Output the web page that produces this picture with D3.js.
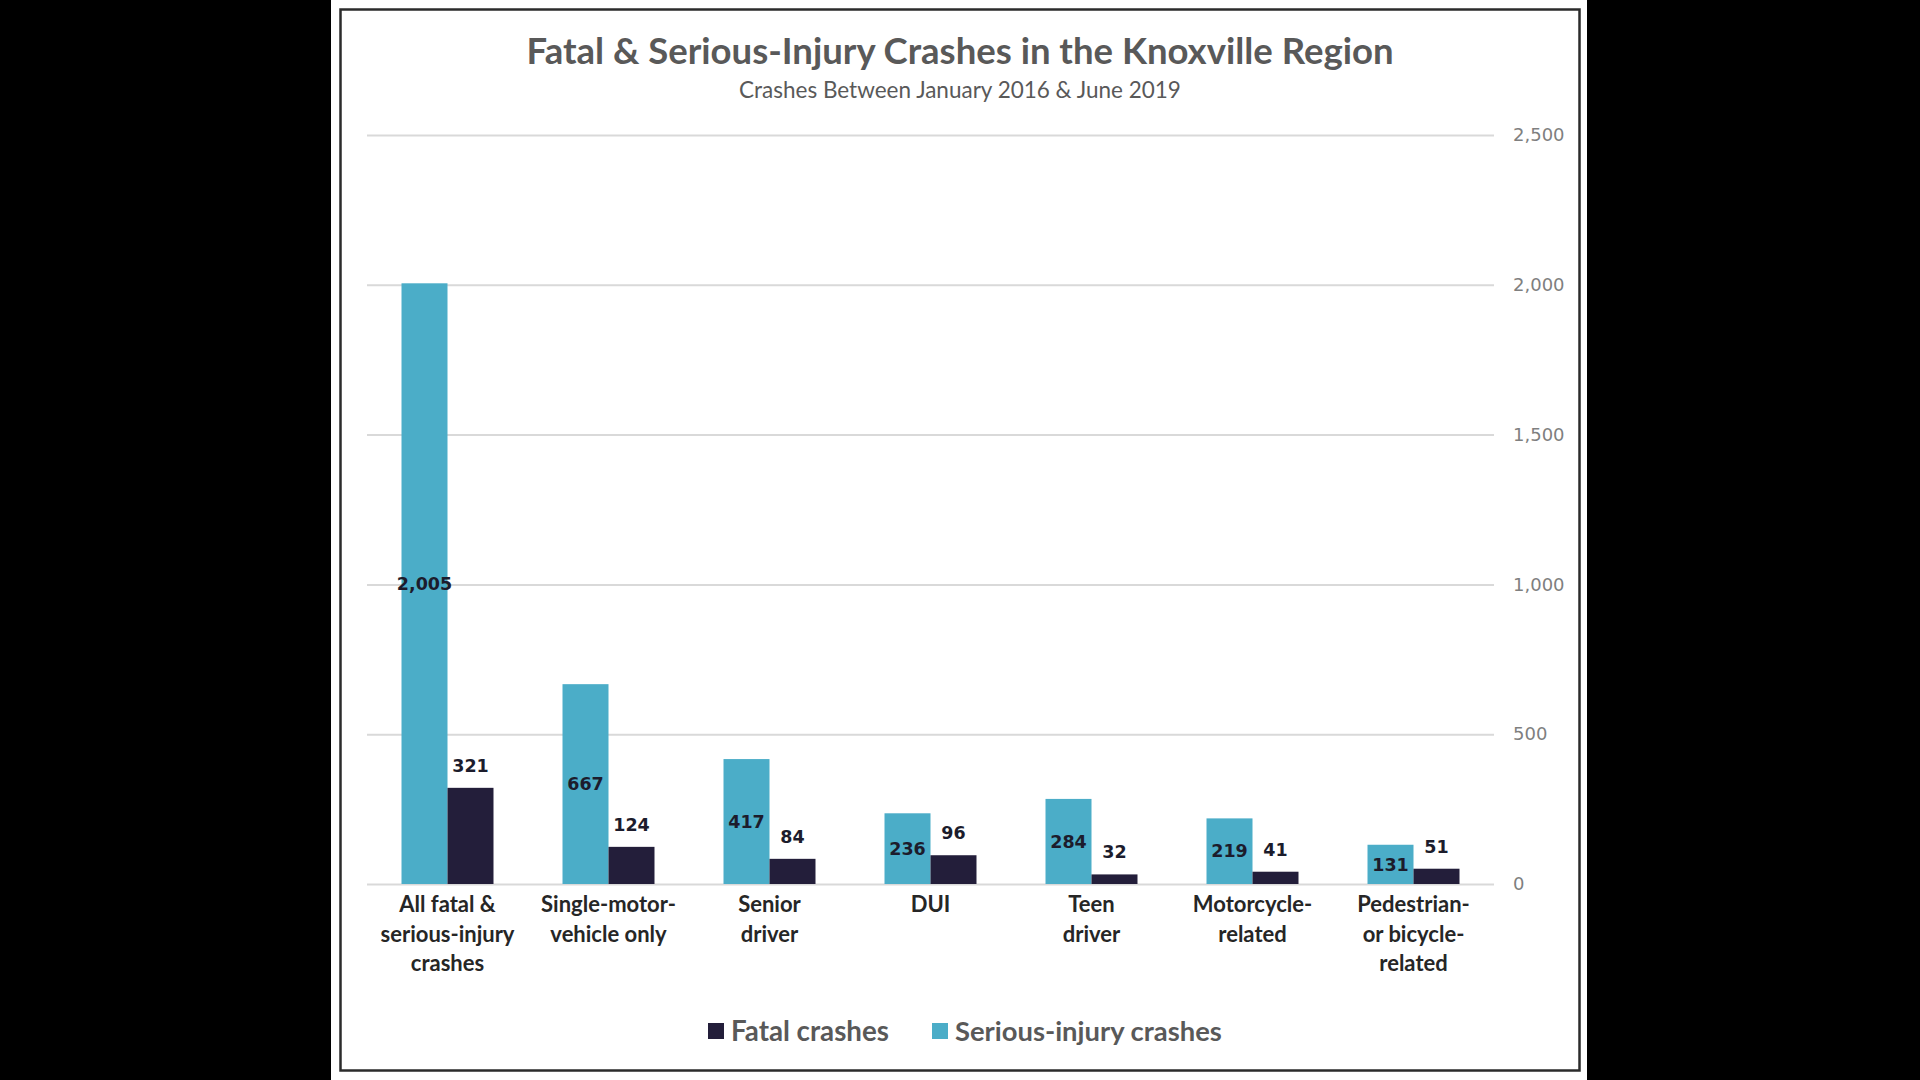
<!DOCTYPE html>
<html>
<head>
<meta charset="utf-8">
<script src="https://cdn.jsdelivr.net/npm/d3@7"></script>
<style>
  html, body { margin: 0; padding: 0; background: #000; }
  svg { display: block; }
</style>
</head>
<body>
<svg id="chart" width="1920" height="1080"></svg>
<script>
// ---- data ----
const categories = [
  "All fatal & serious-injury crashes",
  "Single-motor-vehicle only",
  "Senior driver",
  "DUI",
  "Teen driver",
  "Motorcycle-related",
  "Pedestrian- or bicycle-related"
];
const categoryLines = [
  ["All fatal &", "serious-injury", "crashes"],
  ["Single-motor-", "vehicle only"],
  ["Senior", "driver"],
  ["DUI"],
  ["Teen", "driver"],
  ["Motorcycle-", "related"],
  ["Pedestrian-", "or bicycle-", "related"]
];
const seriousInjury = [2005, 667, 417, 236, 284, 219, 131];
const fatal = [321, 124, 84, 96, 32, 41, 51];
const yTicks = [0, 500, 1000, 1500, 2000, 2500];
const seriesKeys = ["serious", "fatal"];
const legendItems = [
  { key: "fatal", label: "Fatal crashes" },
  { key: "serious", label: "Serious-injury crashes" }
];
const titleText = "Fatal & Serious-Injury Crashes in the Knoxville Region";
const subtitleText = "Crashes Between January 2016 & June 2019";

// ---- styles ----
const colors = { serious: "#4badc8", fatal: "#231e3a" };
const svg = d3.select("#chart");

// panel
svg.append("rect").attr("x", 331).attr("y", 0).attr("width", 1256).attr("height", 1080).attr("fill", "#fff");
svg.append("rect").attr("x", 340.5).attr("y", 9.5).attr("width", 1239).attr("height", 1061)
  .attr("fill", "none").attr("stroke", "#2b2b2b").attr("stroke-width", 2.5);

function fit(sel, width) {
  const node = sel.node();
  const fs = parseFloat(sel.attr("font-size"));
  const w = node.getComputedTextLength();
  sel.attr("font-size", (fs * width / w).toFixed(2));
}

// title
const title = svg.append("text").attr("x", 960).attr("y", 64).attr("text-anchor", "middle")
  .attr("font-family", "Lato").attr("font-weight", 700).attr("font-size", 32).attr("fill", "#595959")
  .text(titleText);
fit(title, 867);
const sub = svg.append("text").attr("x", 960).attr("y", 98).attr("text-anchor", "middle")
  .attr("font-family", "Lato").attr("font-size", 19).attr("fill", "#595959")
  .text(subtitleText);
fit(sub, 442);

// scales
const x0 = d3.scaleBand().domain(categories).range([367, 1494]).paddingInner(0.4286).paddingOuter(0.2143);
const x1 = d3.scaleBand().domain(seriesKeys).range([0, x0.bandwidth()]);
const y = d3.scaleLinear().domain([0, 2500]).range([884, 135]);

// grid + right axis
const axis = svg.append("g").attr("transform", "translate(367,0)")
  .call(d3.axisRight(y).tickValues(yTicks).tickFormat(d3.format(",")).tickSize(1127).tickPadding(19));
axis.select(".domain").remove();
axis.selectAll(".tick line").attr("stroke", "#d9d9d9").attr("stroke-width", 2);
axis.selectAll(".tick text").attr("font-family", "DejaVu Sans").attr("font-size", 18).attr("fill", "#7f7f7f");

const rows = categories.map((c, i) => ({ cat: c, i, serious: seriousInjury[i], fatal: fatal[i] }));

const groups = svg.append("g").selectAll("g").data(rows).join("g")
  .attr("transform", d => `translate(${x0(d.cat)},0)`);

groups.selectAll("rect").data(d => seriesKeys.map(k => ({ key: k, value: d[k] }))).join("rect")
  .attr("x", d => x1(d.key)).attr("width", x1.bandwidth())
  .attr("y", d => y(d.value)).attr("height", d => y(0) - y(d.value))
  .attr("fill", d => colors[d.key]);

// labels
const fmt = d3.format(",");
groups.append("text")
  .attr("x", x1("serious") + x1.bandwidth() / 2)
  .attr("y", d => (y(d.serious) + y(0)) / 2).attr("dy", "0.36em")
  .attr("text-anchor", "middle").attr("font-family", "DejaVu Sans").attr("font-weight", 700)
  .attr("font-size", 17.5).attr("fill", "#1c1c2c")
  .text(d => fmt(d.serious));
groups.append("text")
  .attr("x", x1("fatal") + x1.bandwidth() / 2)
  .attr("y", d => y(d.fatal) - 16)
  .attr("text-anchor", "middle").attr("font-family", "DejaVu Sans").attr("font-weight", 700)
  .attr("font-size", 17.5).attr("fill", "#1c1c2c")
  .text(d => fmt(d.fatal));

// category labels
groups.append("text")
  .attr("text-anchor", "middle").attr("font-family", "Lato").attr("font-weight", 700)
  .attr("font-size", 22).attr("fill", "#262626")
  .each(function(d) {
    const t = d3.select(this);
    categoryLines[d.i].forEach((line, j) => {
      t.append("tspan").attr("x", x0.bandwidth() / 2).attr("y", 912 + j * 29.5).text(line);
    });
  });

// legend
const legendX = [708, 932];
const legendW = [158, 267];
const lg = svg.append("g").selectAll("g").data(legendItems).join("g")
  .attr("transform", (d, i) => `translate(${legendX[i]},1031)`);
lg.append("rect").attr("x", 0).attr("y", -8).attr("width", 16).attr("height", 16)
  .attr("fill", d => colors[d.key]);
lg.append("text").attr("x", 23).attr("y", 0).attr("dy", "0.35em")
  .attr("font-family", "Lato").attr("font-weight", 700).attr("font-size", 24).attr("fill", "#595959")
  .text(d => d.label)
  .each(function(d, i) { fit(d3.select(this), legendW[i]); });
</script>
</body>
</html>
